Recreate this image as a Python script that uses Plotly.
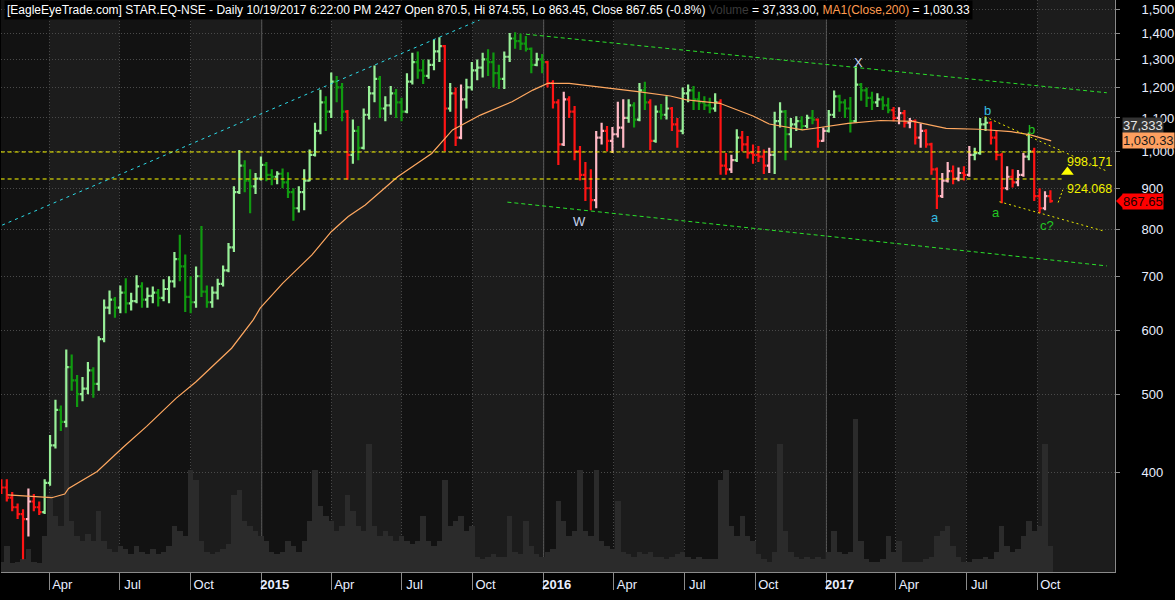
import math
import pandas as pd
import plotly.graph_objects as go

# ---------------- data (weekly bars) ----------------
week_start = "2014-01-29"      # mid-week date of the first weekly bar
n_weeks = 195

open_2014 = [384,383,372,362,355,350,368,362,357,388,432,478,462,540,520,500,508,535,515,585,640,655,640,668,648,652,680,655,662,668,658,675,690,735,720,660,650,700,670,650,668,685,712,760,890,960,920,905]
high_2014 = [392,392,378,366,360,382,376,368,392,445,492,484,568,560,528,525,548,540,590,655,672,660,682,696,668,702,688,678,680,675,694,700,750,788,745,700,720,808,682,680,695,722,770,905,1004,975,950,940]
low_2014 = [376,368,358,350,312,333,358,354,355,385,428,450,455,505,482,490,500,495,505,580,628,622,630,630,635,648,640,640,648,642,652,648,678,690,632,630,640,660,640,640,655,680,708,750,885,890,838,885]
close_2014 = [383,372,362,355,350,368,362,357,388,432,478,462,540,520,500,508,535,515,585,640,655,640,668,648,652,680,655,662,668,658,675,690,735,720,660,650,700,670,650,668,685,712,760,890,960,920,905,925]

open_2015 = [925,962,935,930,938,915,890,850,890,920,990,1060,1150,1120,1220,1200,1120,990,1060,1010,1110,1180,1230,1130,1140,1180,1150,1120,1220,1290,1260,1240,1280,1330,1350,1130,1180,1040,1160,1200,1260,1270,1300,1290,1250,1230,1310,1380,1370,1360,1340,1280]
high_2015 = [985,970,950,945,952,942,900,905,950,1005,1085,1192,1170,1252,1240,1215,1125,1095,1075,1130,1205,1278,1240,1170,1205,1195,1165,1250,1325,1330,1300,1300,1375,1385,1355,1215,1200,1210,1230,1290,1300,1325,1338,1326,1280,1330,1402,1405,1400,1390,1345,1325]
low_2015 = [920,918,908,910,900,875,820,840,845,918,985,1050,1060,1100,1150,1090,922,965,975,1005,1095,1150,1100,1090,1110,1100,1090,1115,1210,1230,1212,1230,1260,1290,1000,1120,1015,1035,1130,1190,1225,1235,1240,1200,1195,1195,1290,1340,1335,1330,1250,1275]
close_2015 = [962,935,930,938,915,890,850,890,920,990,1060,1150,1120,1220,1200,1120,990,1060,1010,1110,1180,1230,1130,1140,1180,1150,1120,1220,1290,1260,1240,1280,1330,1350,1130,1180,1040,1160,1200,1260,1270,1300,1290,1250,1230,1310,1380,1370,1360,1340,1280,1300]

open_2016 = [1300,1290,1215,1150,1020,1160,1120,1000,935,900,870,1040,1060,1030,1050,1070,1100,1140,1095,1190,1150,1030,1120,1110,1130,1080,1060,1180,1190,1160,1150,1140,1130,1150,960,950,975,1040,1020,995,990,985,960,990,1090,1120,1050,1080,1090,1075,1100,1095,1030]
high_2016 = [1320,1295,1225,1160,1185,1170,1138,1015,970,950,1060,1085,1075,1072,1152,1160,1160,1150,1215,1220,1160,1140,1145,1170,1135,1100,1200,1210,1205,1185,1170,1165,1180,1160,995,990,1065,1060,1045,1020,1015,1005,1010,1120,1150,1125,1100,1105,1105,1110,1125,1098,1070]
low_2016 = [1250,1200,1130,962,1015,1100,975,920,868,845,850,1020,1000,995,1040,1010,1085,1070,1090,1125,1004,1025,1095,1095,1060,1010,1050,1150,1125,1125,1125,1115,1120,935,935,940,970,1000,980,965,970,937,940,937,1070,975,1010,1060,1062,1068,1080,1010,1028]
close_2016 = [1290,1215,1150,1020,1160,1120,1000,935,900,870,1040,1060,1030,1050,1070,1100,1140,1095,1190,1150,1030,1120,1110,1130,1080,1060,1180,1190,1160,1150,1140,1130,1150,960,950,975,1040,1020,995,990,985,960,990,1090,1120,1050,1080,1090,1075,1100,1095,1030,1060]

open_2017 = [1060,1110,1170,1150,1130,1090,1210,1190,1165,1150,1160,1140,1125,1100,1115,1085,1090,1040,1060,1020,950,880,920,945,925,940,935,990,995,1080,1085,1040,990,900,930,915,935,985,1000,880,850,880]
high_2017 = [1125,1190,1175,1160,1168,1276,1215,1200,1185,1180,1170,1165,1135,1134,1125,1100,1095,1083,1065,1025,955,940,970,960,955,958,1015,1010,1100,1102,1090,1062,995,958,950,948,995,1055,1010,900,892,895]
low_2017 = [1055,1100,1120,1100,1055,1085,1155,1135,1125,1135,1125,1115,1090,1080,1070,1068,1020,1010,1010,935,848,875,915,910,918,920,930,975,990,1060,1020,975,862,895,902,905,930,975,868,838,845,863.45]
close_2017 = [1110,1170,1150,1130,1090,1210,1190,1165,1150,1160,1140,1125,1100,1115,1085,1090,1040,1060,1020,950,880,920,945,925,940,935,990,995,1080,1085,1040,990,900,930,915,935,985,1000,880,850,880,867.65]

# bar colour regime (G = green bars, R = red bars), run-length
trend_runs = [("R",8),("G",40),
              ("G",16),("R",1),("G",17),("R",1),("G",1),("R",2),("G",14),
              ("G",1),("R",15),("G",4),("R",1),("G",3),("R",2),("G",7),("R",3),("G",1),("R",6),("G",8),("R",2),
              ("G",12),("R",15),("G",3),("R",7),("G",1),("R",4)]

# volume (thousands of shares, typical daily level for each week)
volume_2014 = [20,50,18,20,25,45,20,18,70,150,110,90,400,100,70,60,75,60,120,60,45,40,50,45,35,50,40,35,45,35,40,50,90,80,70,200,180,60,40,35,40,45,55,150,160,100,90,80]
volume_2015 = [70,60,40,35,40,60,50,40,60,100,200,130,110,100,80,90,150,120,90,80,250,90,70,80,70,60,70,60,55,60,110,60,50,60,180,90,100,110,80,90,30,25,30,35,30,30,110,40,35,100,50,35]
volume_2016 = [30,40,45,140,100,70,80,200,80,70,200,60,50,45,140,40,35,30,40,35,40,30,30,25,30,35,40,30,25,30,25,25,25,180,200,90,70,110,70,60,35,25,20,40,250,80,40,30,25,30,25,30,25]
volume_2017 = [40,80,40,35,40,300,60,25,20,20,25,70,40,60,20,20,20,20,25,30,70,80,90,50,30,20,20,25,25,30,25,40,90,50,40,45,70,100,80,90,250,50]

# 200-day moving average
ma_dates = ["2014-02-06","2014-04-04","2014-04-21","2014-04-26","2014-06-02","2014-07-06","2014-08-05","2014-09-12","2014-10-08","2014-11-23","2014-12-21","2014-12-30","2015-01-28","2015-03-07","2015-04-01","2015-04-23","2015-05-15","2015-06-06","2015-06-26","2015-08-09","2015-09-05","2015-10-11","2015-11-21","2015-12-18","2016-01-06","2016-02-03","2016-03-20","2016-05-02","2016-06-13","2016-07-04","2016-08-16","2016-09-28","2016-10-19","2016-12-01","2016-12-17","2017-01-29","2017-03-12","2017-04-23","2017-06-05","2017-07-17","2017-08-28","2017-09-22","2017-10-19"]
ma_values = [375,372,376,382,401,430,456,494,518,570,618,639,686,744,795,830,858,896,930,994,1063,1109,1152,1191,1214,1214,1200,1186,1171,1158,1147,1106,1081,1063,1068,1083,1092,1089,1068,1065,1058,1048,1030.33]

# drawn trend lines (date, price end points)
cyan_dates, cyan_prices = ["2014-01-30", "2015-10-10"], [810, 1455]
chan_up_dates, chan_up_prices = ["2015-12-09", "2017-12-30"], [1397, 1182]
chan_lo_dates, chan_lo_prices = ["2015-11-15", "2017-12-30"], [865, 721]
wedge_up_dates, wedge_up_prices = ["2017-07-25", "2017-12-29"], [1104, 946]
wedge_lo_dates, wedge_lo_prices = ["2017-08-13", "2017-12-25"], [866, 797]
level_dates = ["2014-01-28", "2017-11-03"]
level_prices = [998.171, 924.068]
proj_dates, proj_prices = ["2017-10-28", "2017-11-03"], [864, 896]
target_date, target_price = "2017-11-09", 943

wave_text = ["W", "X", "a", "b", "a", "b", "c?"]
wave_dates = ["2016-02-17", "2017-02-11", "2017-05-21", "2017-07-29", "2017-08-08", "2017-09-23", "2017-10-14"]
wave_prices = [818, 1288, 828, 1125, 839, 1063, 809]

price_ticks = [400, 500, 600, 700, 800, 900, 1000, 1100, 1200, 1300, 1400, 1500]
price_tick_text = ["400", "500", "600", "700", "800", "900", "1,000", "1,100", "1,200", "1,300", "1,400", "1,500"]
quarter_ticks = ["2014-04-01","2014-07-01","2014-10-01","2015-01-01","2015-04-01","2015-07-01","2015-10-01",
                 "2016-01-01","2016-04-01","2016-07-01","2016-10-01","2017-01-01","2017-04-01","2017-07-01","2017-10-01"]
quarter_text = ["Apr","Jul","Oct","<b>2015</b>","Apr","Jul","Oct","<b>2016</b>","Apr","Jul","Oct","<b>2017</b>","Apr","Jul","Oct"]

last_volume = 37333
last_ma = 1030.33
last_close = 867.65

# ---------------- build ----------------
dates = pd.date_range(week_start, periods=n_weeks, freq="7D")
O = open_2014 + open_2015 + open_2016 + open_2017
H = high_2014 + high_2015 + high_2016 + high_2017
L = low_2014 + low_2015 + low_2016 + low_2017
C = close_2014 + close_2015 + close_2016 + close_2017
V = volume_2014 + volume_2015 + volume_2016 + volume_2017
trend = "".join(k * n for k, n in trend_runs)
assert len(O) == len(H) == len(L) == len(C) == len(V) == len(trend) == n_weeks

FONT = "Liberation Sans, Arial, sans-serif"
X_RANGE = ["2014-01-28 12:00", "2018-01-09 14:00"]
Y_RANGE = [2.47845, 3.18761]

fig = go.Figure()

fig.add_trace(go.Bar(x=dates, y=V, width=7 * 86400000, marker=dict(color="#2b2b2b", line=dict(width=0)),
                     xaxis="x", yaxis="y", hoverinfo="skip"))

def ohlc_trace(flag, inc, dec):
    idx = [i for i, t in enumerate(trend) if t == flag]
    return go.Ohlc(x=[dates[i] for i in idx], open=[O[i] for i in idx], high=[H[i] for i in idx],
                   low=[L[i] for i in idx], close=[C[i] for i in idx],
                   increasing=dict(line=dict(color=inc, width=2.2)),
                   decreasing=dict(line=dict(color=dec, width=2.2)),
                   tickwidth=0.45, xaxis="x", yaxis="y2", hoverinfo="skip")

fig.add_trace(ohlc_trace("G", "#98f098", "#109a10"))
fig.add_trace(ohlc_trace("R", "#ffb8c4", "#ff1414"))

fig.add_trace(go.Scatter(x=ma_dates, y=ma_values, mode="lines", line=dict(color="#ffa860", width=1.2),
                         yaxis="y2", hoverinfo="skip"))

def line(xs, ys, color, dash, width=1.0):
    fig.add_trace(go.Scatter(x=xs, y=ys, mode="lines", line=dict(color=color, width=width, dash=dash),
                             yaxis="y2", hoverinfo="skip"))

line(cyan_dates, cyan_prices, "#2cdbe8", "3px,4px")
line(chan_up_dates, chan_up_prices, "#2ae02a", "4px,3px")
line(chan_lo_dates, chan_lo_prices, "#2ae02a", "4px,3px")
line(wedge_up_dates, wedge_up_prices, "#e8e800", "2px,3px")
line(wedge_lo_dates, wedge_lo_prices, "#e8e800", "2px,3px")
for p in level_prices:
    line(level_dates, [p, p], "#ffff00", "4px,3px")
line(proj_dates, proj_prices, "#e8e800", "2px,2px")
fig.add_trace(go.Scatter(x=[target_date], y=[target_price], mode="markers",
                         marker=dict(symbol="triangle-up", size=11, color="#ffff00"),
                         yaxis="y2", hoverinfo="skip"))

# background quarter bands and year lines
shapes = []
band_starts = ["2014-04-01", "2014-10-01", "2015-04-01", "2015-10-01", "2016-04-01", "2016-10-01", "2017-04-01", "2017-10-01"]
band_ends = ["2014-07-01", "2015-01-01", "2015-07-01", "2016-01-01", "2016-07-01", "2017-01-01", "2017-07-01", "2018-01-09"]
for a, b in zip(band_starts, band_ends):
    shapes.append(dict(type="rect", xref="x", yref="paper", x0=a, x1=b, y0=0, y1=1,
                       fillcolor="#1c1c1c", line=dict(width=0), layer="below"))
for yr in ["2015-01-01", "2016-01-01", "2017-01-01"]:
    shapes.append(dict(type="line", xref="x", yref="paper", x0=yr, x1=yr, y0=0, y1=1,
                       line=dict(color="#5c5c5c", width=1), layer="below"))
close_frac = (math.log10(last_close) - Y_RANGE[0]) / (Y_RANGE[1] - Y_RANGE[0])
shapes.append(dict(type="path", xref="paper", yref="paper", xsizemode="pixel", ysizemode="pixel",
                   xanchor=1, yanchor=close_frac, path="M 1 0 L 8 7 L 8 -7 Z",
                   fillcolor="#ff0000", line=dict(width=0)))

ann = []
title = ("[EagleEyeTrade.com] STAR.EQ-NSE - Daily 10/19/2017 6:22:00 PM 2427 Open 870.5, Hi 874.55, "
         "Lo 863.45, Close 867.65 (-0.8%) <span style='color:#3a3a3a'>Volume</span> = 37,333.00, "
         "<span style='color:#ff9c50'>MA1(Close,200)</span> = 1,030.33")
ann.append(dict(text=title, xref="paper", yref="paper", x=0.0027, y=1, xanchor="left", yanchor="top",
                showarrow=False, bgcolor="#000000", borderpad=2, font=dict(family=FONT, size=12, color="#ffffff")))

wave_colors = ["#c8d4f0", "#c8d4f0", "#36bde0", "#36bde0", "#22c822", "#22c822", "#22c822"]
for t, d, p, c in zip(wave_text, wave_dates, wave_prices, wave_colors):
    ann.append(dict(text=t, x=d, y=math.log10(p), xref="x", yref="y2", showarrow=False,
                    font=dict(family=FONT, size=13, color=c)))

for p in level_prices:
    ann.append(dict(text=f"{p:.3f}", x="2017-11-06", y=math.log10(p), xref="x", yref="y2",
                    xanchor="left", yanchor="top", yshift=-1, showarrow=False,
                    font=dict(family=FONT, size=12.5, color="#f0f000")))

ann.append(dict(text=f"{last_volume:,}", xref="paper", yref="paper", x=1.0063, y=1 - 125 / 572,
                xanchor="left", yanchor="middle", showarrow=False, bgcolor="#333333", borderpad=0,
                font=dict(family=FONT, size=13, color="#e6e6e6")))
ann.append(dict(text=f"{last_ma:,.2f}", xref="paper", yref="y2", x=1.0063, y=math.log10(last_ma),
                xanchor="left", yanchor="middle", showarrow=False, bgcolor="#ffa060", borderpad=0,
                font=dict(family=FONT, size=13, color="#1a1a1a")))
ann.append(dict(text=f"{last_close:.2f}", xref="paper", yref="y2", x=1.0063, y=math.log10(last_close),
                xanchor="left", yanchor="middle", showarrow=False, bgcolor="#ff0000", borderpad=0,
                font=dict(family=FONT, size=13, color="#200000")))

fig.update_layout(
    width=1175, height=600,
    margin=dict(l=1, r=60, t=0, b=28),
    paper_bgcolor="#000000", plot_bgcolor="#121212",
    showlegend=False, bargap=0,
    shapes=shapes, annotations=ann,
    xaxis=dict(type="date", range=X_RANGE, tickvals=quarter_ticks, ticktext=quarter_text,
               showgrid=True, gridcolor="#474747", griddash="1px,2px", gridwidth=1,
               ticks="outside", ticklen=17, tickcolor="#8a8a8a", showline=True, linecolor="#8a8a8a",
               tickfont=dict(family=FONT, size=13, color="#e8eeff"),
               ticklabelshift=13, ticklabelstandoff=-17,
               rangeslider=dict(visible=False), zeroline=False, fixedrange=True),
    yaxis=dict(visible=False, range=[0, 1120], fixedrange=True),
    yaxis2=dict(type="log", overlaying="y", side="right", anchor="x", range=Y_RANGE,
                tickvals=price_ticks, ticktext=price_tick_text,
                showgrid=True, gridcolor="#4a4a4a", griddash="1px,2px", gridwidth=1,
                showline=True, linecolor="#8a8a8a", ticks="outside", ticklen=4, tickcolor="#8a8a8a",
                tickfont=dict(family=FONT, size=13, color="#e8eeff"), ticklabelstandoff=19,
                zeroline=False, fixedrange=True),
)

fig.write_html("out.html", config={"displayModeBar": False},
               post_script="document.body.style.margin='0';document.body.style.padding='0';"
                           "document.body.style.background='#000';")
